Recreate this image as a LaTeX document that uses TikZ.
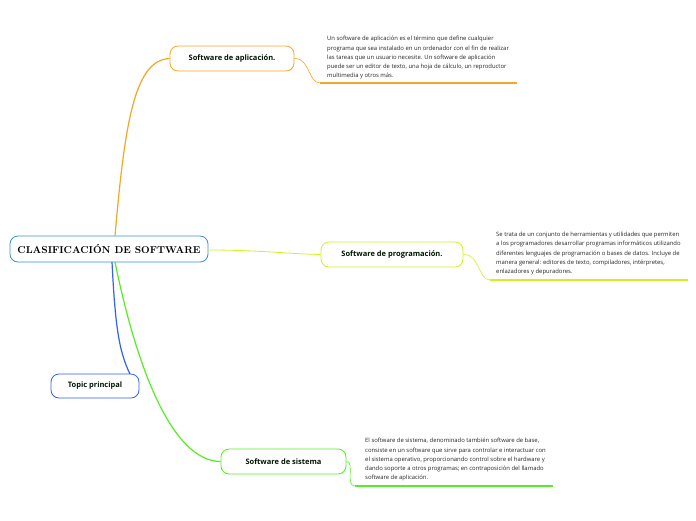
\documentclass[tikz,border=0pt]{standalone}
\usepackage{fontspec}
\setsansfont{Open Sans}
\begin{document}
\begin{tikzpicture}[x=1pt,y=-1pt,
  topic/.style={draw=#1,line width=0.8pt,rounded corners=8pt,fill=white,font=\sffamily\bfseries\fontsize{7.5}{9}\selectfont,text=black!70!green!30!black},
  desc/.style={anchor=north west,align=flush left,text width=186pt,font=\sffamily\fontsize{5.9}{9.3}\selectfont,text=black!85,inner sep=0pt},
  conn/.style={line width=1.2pt,color=#1},
  thin/.style={line width=0.6pt,color=#1}]
\useasboundingbox (0,0) rectangle (696,520);
\definecolor{orng}{HTML}{F5A623}
\definecolor{ylw}{HTML}{D4EE22}
\definecolor{blu}{HTML}{2F62F0}
\definecolor{grn}{HTML}{55EE22}
\definecolor{cblu}{HTML}{3A8DDE}
\coordinate (c1) at (115,236);
\coordinate (c2) at (208,250);
\coordinate (c3) at (112,262);
\coordinate (c4) at (115,262);
\node[topic=cblu,minimum width=198pt,minimum height=26pt,font=\rmfamily\bfseries\fontsize{10}{12}\selectfont,text=black] (main) at (109,249) {CLASIFICACIÓN DE SOFTWARE};
\node[topic=orng,minimum width=124pt,minimum height=25pt] (a) at (232,58.5) {Software de aplicación.};
\node[topic=ylw,minimum width=142pt,minimum height=25pt] (p) at (392,254.5) {Software de programación.};
\node[topic=blu,minimum width=88pt,minimum height=24pt] (t) at (95,386) {Topic principal};
\node[topic=grn,minimum width=125pt,minimum height=25pt] (s) at (283.5,461.5) {Software de sistema};
\coordinate (tt) at (130,374);
\draw[conn=orng] (c1) .. controls (125,120) and (135,60) .. (a.west);
\draw[conn=ylw,line width=0.8pt] (c2) .. controls (260,250) and (290,254) .. (p.west);
\draw[conn=blu] (c3) .. controls (115,320) and (118,350) .. (tt);
\draw[conn=grn] (c4) .. controls (135,360) and (170,461) .. (s.west);
\node[desc] (da) at (327,36) {Un software de aplicación es el término que define cualquier programa que sea instalado en un ordenador con el fin de realizar las tareas que un usuario necesite. Un software de aplicación puede ser un editor de texto, una hoja de cálculo, un reproductor multimedia y otros más.};
\coordinate (ua) at (320,83); \coordinate (ua2) at (517,83);
\draw[thin=orng] (a.east) .. controls (310,58) and (308,83) .. (ua);
\draw[conn=orng] (ua) -- (ua2);
\node[desc] (dp) at (496,232) {Se trata de un conjunto de herramientas y utilidades que permiten a los programadores desarrollar programas informáticos utilizando diferentes lenguajes de programación o bases de datos. Incluye de manera general: editores de texto, compiladores, intérpretes, enlazadores y depuradores.};
\coordinate (up) at (490,280); \coordinate (up2) at (688,280);
\draw[thin=ylw] (p.east) .. controls (480,254) and (478,280) .. (up);
\draw[conn=ylw] (up) -- (up2);
\node[desc] (ds) at (365,438) {El software de sistema, denominado también software de base, consiste en un software que sirve para controlar e interactuar con el sistema operativo, proporcionando control sobre el hardware y dando soporte a otros programas; en contraposición del llamado software de aplicación.};
\coordinate (us) at (355,486); \coordinate (us2) at (553,486);
\draw[thin=grn] (s.east) .. controls (355,461) and (345,486) .. (us);
\draw[conn=grn] (us) -- (us2);
\end{tikzpicture}
\end{document}
